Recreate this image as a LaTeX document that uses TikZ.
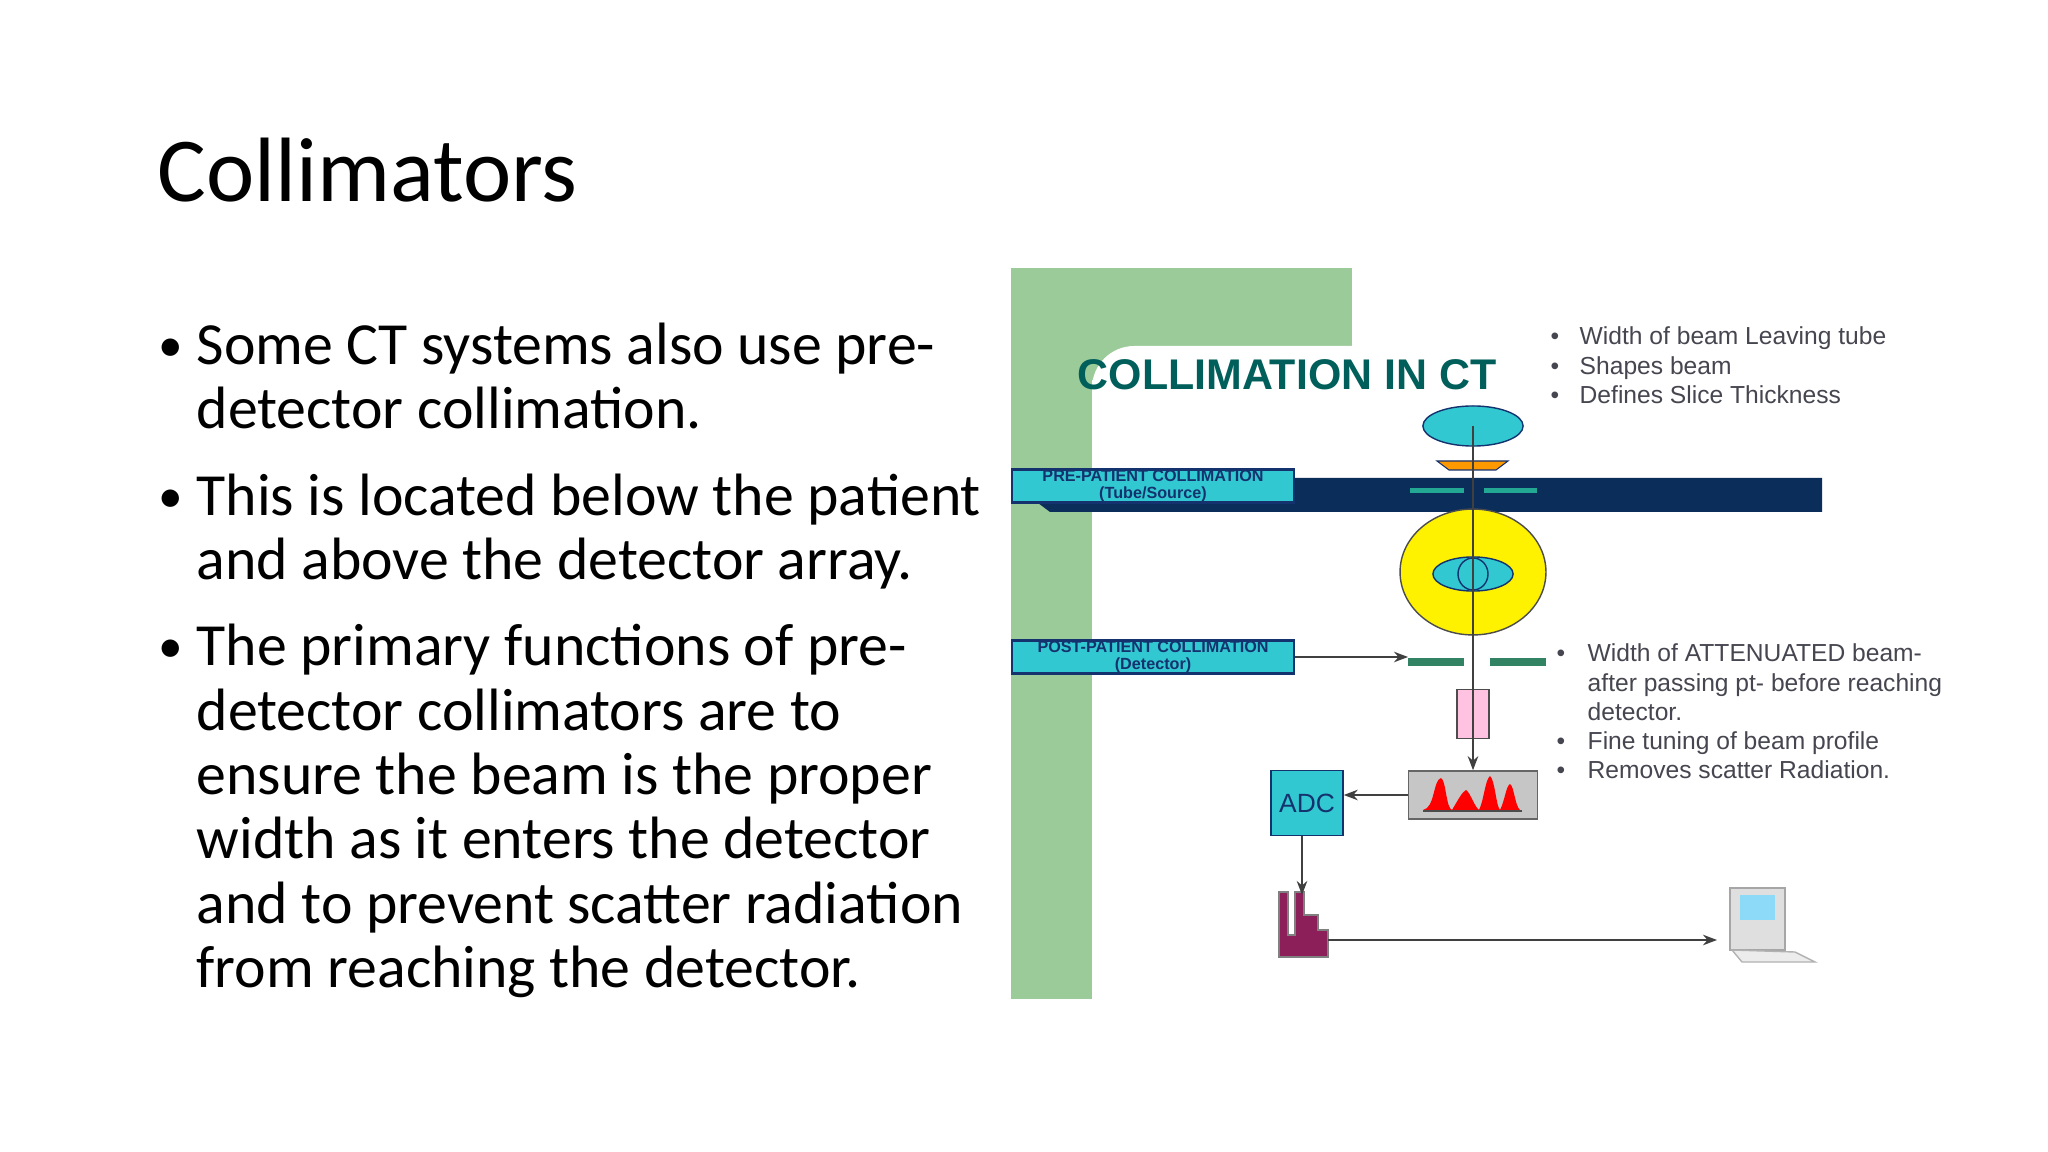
\documentclass[tikz,border=0pt]{standalone}
\usepackage{fontspec}
\setmainfont{Carlito}
\newfontfamily\arial{Liberation Sans}
\usetikzlibrary{arrows.meta,shapes.geometric}
\definecolor{pgreen}{RGB}{155,203,153}
\definecolor{navy}{RGB}{10,45,90}
\definecolor{cyanbox}{RGB}{50,200,210}
\definecolor{tealtxt}{RGB}{0,95,90}
\definecolor{dgreen}{RGB}{50,130,100}
\definecolor{lblue}{RGB}{20,50,110}
\definecolor{maroon}{RGB}{140,30,90}
\definecolor{txtgray}{RGB}{70,70,80}
\tikzset{
  conn/.style={draw=black!75,line width=0.5pt,-{Stealth[length=4pt,width=3pt]}},
  lbl/.style={draw=lblue,fill=cyanbox,line width=0.8pt,inner sep=0pt,align=center,font=\arial\bfseries\fontsize{4.6}{4.8}\selectfont,text=lblue},
  small/.style={font=\arial\fontsize{7}{8.3}\selectfont,text=txtgray,anchor=base west,inner sep=0pt},
  body/.style={font=\fontsize{17}{18.5}\selectfont,anchor=base west,inner sep=0pt}
}
\begin{document}
\begin{tikzpicture}[x=0.01cm,y=-0.01cm]
\useasboundingbox (0,0) rectangle (2048,1152);
% title and bullets
\node[font=\fontsize{26}{30}\selectfont,anchor=base west,inner sep=0pt] (title) at (157,202) {Collimators};
\foreach \y in {365,516,666}{
  \node[body] at (158,\y) {\raisebox{0.12ex}{\fontsize{14}{14}\selectfont•}};
}
\foreach \y/\t [count=\i] in {365/Some CT systems also use pre-,429/detector collimation.,516/This is located below the patient,580/and above the detector array.,666/The primary functions of pre-,730/detector collimators are to,794/ensure the beam is the proper,858/width as it enters the detector,923/and to prevent scatter radiation,987/from reaching the detector.}{
  \node[body] (b\i) at (196,\y) {\t};
}
% green panel
\fill[pgreen] (1011,268) rectangle (1352,999);
\fill[white,rounded corners=12pt] (1092,346) rectangle (1980,1010);
\fill[white] (1092,380) rectangle (1352,1010);
\node[font=\arial\bfseries\fontsize{12.2}{12}\selectfont,text=tealtxt,inner sep=0pt] (head) at (1287,375) {COLLIMATION IN CT};
% top bullets
\foreach \y/\t [count=\i] in {345/Width of beam Leaving tube,375/Shapes beam,404/Defines Slice Thickness}{
  \node[small] at (1550,\y) {•};
  \node[small] (tb\i) at (1579,\y) {\t};
}
% navy bar
\fill[navy] (1038,478) -- (1822,478) -- (1822,512) -- (1050,512) -- (1038,503) -- cycle;
\fill[dgreen!70!cyan] (1410,488) rectangle (1464,493);
\fill[dgreen!70!cyan] (1484,488) rectangle (1537,493);
\node[lbl,minimum width=80.2pt,minimum height=9.4pt] (pre) at (1153,486) {PRE-PATIENT COLLIMATION\\(Tube/Source)};
% tube
\node[draw=lblue,fill=cyanbox,ellipse,minimum width=28.5pt,minimum height=11.4pt,inner sep=0pt] (tube) at (1473,426) {};
\fill[orange!80!yellow,draw=lblue,line width=0.3pt] (1437,461) -- (1508,461) -- (1496,470) -- (1449,470) -- cycle;
% patient
\node[draw=black!70,fill=yellow,ellipse,minimum width=41.5pt,minimum height=35.8pt,inner sep=0pt] (pat) at (1473,572) {};
\node[draw=lblue,fill=cyanbox,ellipse,minimum width=22.8pt,minimum height=9.7pt,inner sep=0pt] (organ) at (1473,574) {};
\draw[lblue,line width=0.4pt] (1473,574) ellipse (15 and 16);
% post collimators
\fill[dgreen] (1408,658) rectangle (1464,666);
\fill[dgreen] (1490,658) rectangle (1546,666);
\node[lbl,minimum width=80.2pt,minimum height=9.4pt] (post) at (1153,657) {POST-PATIENT COLLIMATION\\(Detector)};
\coordinate (pc) at (1408,657);
\draw[conn] (post.east) -- (pc);
% beam
\node[draw=black!60,fill=gray!45,minimum width=36.7pt,minimum height=13.7pt,inner sep=0pt] (det) at (1473,795) {};
\node[draw=black!70,fill=pink!80!magenta!60,minimum width=9.1pt,minimum height=13.9pt,inner sep=0pt] (pink) at (1473,714) {};
\draw[conn] (tube.center) -- (det.north);
% peaks
\fill[red] (1423,810) .. controls (1435,808) and (1433,780) .. (1441,778) .. controls (1446,780) and (1446,808) .. (1452,810)
  .. controls (1458,800) and (1462,792) .. (1466,790) .. controls (1470,792) and (1474,806) .. (1479,810)
  .. controls (1484,800) and (1485,780) .. (1490,776) .. controls (1495,780) and (1496,806) .. (1500,810)
  .. controls (1505,800) and (1506,786) .. (1510,784) .. controls (1514,786) and (1515,806) .. (1520,810) -- cycle;
\draw[black!70,line width=0.4pt] (1423,811) -- (1522,811);
% bottom bullets
\foreach \y/\t/\b [count=\i] in {662/Width of ATTENUATED beam-/1,692/after passing pt- before reaching/0,720/detector./0,749/Fine tuning of beam profile/1,778/Removes scatter Radiation./1}{
  \ifnum\b=1 \node[small] at (1556,\y) {•};\fi
  \node[small] (bb\i) at (1587,\y) {\t};
}
% ADC
\node[draw=lblue,fill=cyanbox,minimum width=20.5pt,minimum height=18.5pt,inner sep=0pt,font=\arial\fontsize{7.5}{8}\selectfont,text=lblue] (adc) at (1307,803) {ADC};
\draw[conn] (det.west) -- (adc.east |- det.west);
% histogram
\fill[maroon,draw=black!50,line width=0.3pt] (1279,957) -- (1279,892) -- (1288,892) -- (1288,935) -- (1295,935) -- (1295,892) -- (1304,892) -- (1304,915) -- (1318,915) -- (1318,930) -- (1328,930) -- (1328,957) -- cycle;
\coordinate (hist) at (1302,895);
\draw[conn] (adc.south -| hist) -- (hist);
% computer
\coordinate (comp) at (1717,940);
\draw[conn] (1328,940) -- (comp);
\fill[gray!25] (1730,888) rectangle (1785,950);
\draw[gray!70] (1730,888) rectangle (1785,950);
\fill[cyan!45] (1740,895) rectangle (1775,920);
\fill[gray!15,draw=gray!60] (1732,950) -- (1795,952) -- (1815,962) -- (1742,962) -- cycle;
\end{tikzpicture}
\end{document}
